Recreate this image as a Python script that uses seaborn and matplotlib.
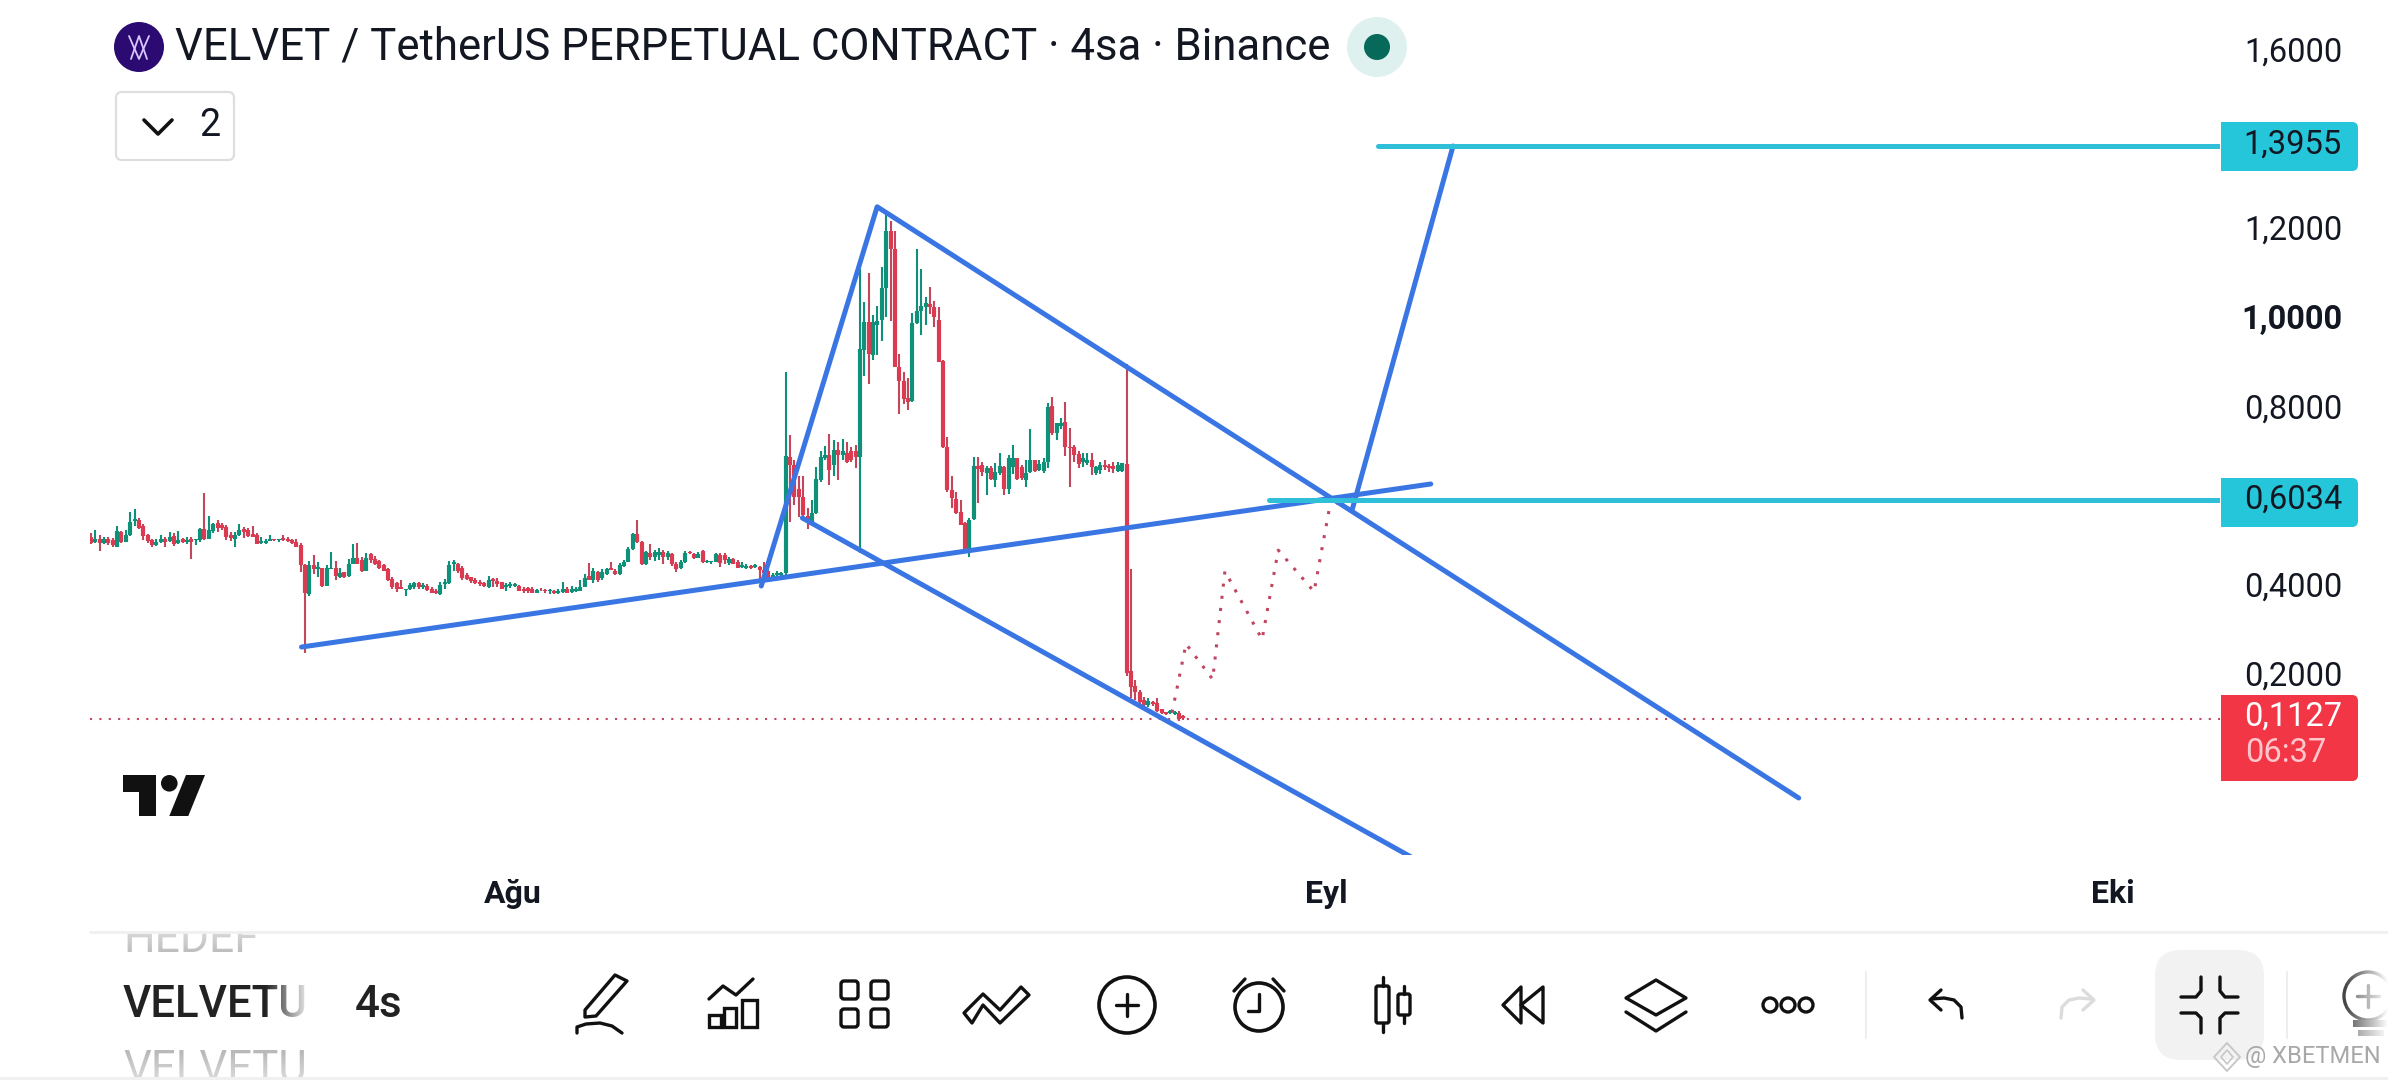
import numpy as np
import pandas as pd
import matplotlib.pyplot as plt
from matplotlib.patches import Circle, FancyBboxPatch, Polygon, Rectangle
from matplotlib.transforms import ScaledTranslation
import seaborn as sns

# candle data, 4h bars
opens = [.520,.508,.515,.507,.514,.513,.498,.531,.509,.524,
         .556,.557,.544,.524,.513,.501,.509,.515,.510,.522,
         .505,.514,.509,.514,.513,.513,.537,.516,.533,.550,
         .546,.541,.524,.516,.524,.537,.534,.526,.524,.505,
         .505,.511,.515,.512,.518,.516,.513,.509,.501,.457,
         .392,.457,.448,.449,.410,.447,.449,.429,.440,.431,
         .458,.472,.468,.444,.481,.469,.466,.457,.448,.425,
         .417,.407,.401,.402,.407,.416,.407,.410,.404,.399,
         .391,.414,.416,.459,.460,.451,.434,.429,.423,.418,
         .416,.407,.425,.421,.418,.408,.410,.410,.410,.404,
         .406,.403,.395,.404,.401,.398,.399,.395,.396,.404,
         .396,.399,.399,.408,.431,.423,.442,.427,.436,.451,
         .443,.436,.454,.464,.492,.526,.509,.460,.484,.474,
         .478,.485,.475,.481,.460,.449,.463,.485,.481,.473,
         .487,.464,.464,.464,.479,.479,.462,.470,.464,.453,
         .451,.454,.453,.453,.445,.443,.425,.434,.434,.438,
         .699,.681,.628,.610,.567,.554,.574,.647,.696,.703,
         .681,.714,.703,.707,.713,.713,.699,.939,1.002,.927,
         .994,1.006,1.077,1.205,1.164,.901,.870,.830,.824,.999,
         1.026,1.035,1.041,1.035,1.006,.914,.720,.625,.604,.576,
         .550,.487,.559,.678,.681,.662,.673,.647,.662,.677,
         .628,.677,.696,.677,.647,.664,.691,.670,.668,.688,
         .813,.753,.767,.778,.722,.722,.705,.688,.686,.693,
         .662,.670,.681,.679,.679,.668,.668,.684,.219,.185,
         .173,.154,.143,.149,.147,.133,.127,.126,.123,.126,
         .118]
highs = [.528,.535,.524,.520,.520,.518,.544,.533,.535,.575,
         .582,.561,.549,.526,.516,.514,.524,.519,.531,.528,
         .533,.518,.520,.520,.516,.540,.619,.566,.551,.558,
         .550,.546,.531,.531,.549,.541,.539,.544,.528,.520,
         .516,.524,.516,.516,.524,.519,.514,.514,.507,.459,
         .466,.478,.463,.451,.457,.485,.466,.449,.442,.469,
         .503,.507,.475,.484,.484,.477,.468,.460,.451,.430,
         .419,.423,.404,.417,.418,.418,.416,.414,.408,.402,
         .419,.425,.466,.468,.462,.454,.438,.430,.427,.423,
         .419,.432,.427,.427,.419,.416,.418,.417,.412,.408,
         .408,.407,.404,.406,.402,.402,.401,.402,.419,.407,
         .410,.407,.422,.436,.462,.449,.444,.447,.451,.464,
         .447,.462,.468,.496,.529,.557,.511,.489,.504,.490,
         .494,.490,.487,.483,.464,.468,.487,.489,.483,.485,
         .490,.468,.466,.484,.483,.484,.475,.473,.468,.464,
         .460,.457,.458,.455,.464,.445,.438,.443,.441,.888,
         .748,.693,.655,.655,.584,.602,.677,.713,.723,.750,
         .737,.733,.738,.733,.722,.726,1.121,1.047,1.110,1.017,
         1.036,1.125,1.241,1.228,1.206,.929,.888,.875,1.021,1.164,
         1.119,1.058,1.080,1.048,1.034,.916,.743,.657,.621,.602,
         .554,.561,.699,.699,.688,.679,.679,.686,.707,.679,
         .703,.726,.697,.681,.693,.761,.691,.691,.696,.819,
         .832,.774,.785,.823,.763,.726,.711,.707,.707,.708,
         .679,.688,.691,.683,.688,.688,.686,.908,.447,.199,
         .177,.160,.158,.153,.158,.135,.128,.132,.129,.130,
         .121]
lows = [.504,.507,.487,.503,.501,.498,.498,.505,.509,.522,
        .545,.537,.513,.507,.498,.500,.507,.496,.509,.500,
        .504,.507,.503,.470,.501,.509,.513,.515,.528,.531,
        .535,.513,.511,.496,.522,.518,.519,.519,.503,.504,
        .504,.511,.510,.509,.510,.509,.503,.496,.442,.260,
        .387,.436,.429,.408,.410,.447,.423,.427,.427,.429,
        .458,.459,.442,.444,.462,.457,.448,.444,.421,.404,
        .397,.402,.388,.401,.404,.404,.404,.398,.393,.391,
        .389,.402,.414,.444,.438,.423,.423,.417,.414,.410,
        .407,.406,.408,.407,.402,.398,.406,.407,.398,.395,
        .395,.393,.393,.398,.393,.392,.392,.392,.395,.393,
        .393,.397,.398,.408,.423,.416,.419,.423,.434,.445,
        .434,.434,.453,.463,.490,.507,.457,.457,.468,.466,
        .468,.459,.468,.454,.442,.447,.462,.481,.469,.472,
        .462,.462,.460,.463,.453,.459,.457,.459,.451,.449,
        .447,.447,.449,.425,.425,.423,.423,.427,.428,.434,
        .552,.591,.565,.556,.537,.544,.572,.643,.691,.636,
        .656,.646,.692,.686,.688,.673,.483,.881,.862,.915,
        .927,.959,1.013,1.004,.901,.795,.817,.803,.823,.997,
        .972,.994,1.019,.991,.911,.718,.621,.584,.572,.546,
        .484,.474,.558,.595,.655,.613,.647,.632,.658,.614,
        .616,.661,.647,.647,.631,.662,.666,.668,.662,.673,
        .748,.737,.761,.702,.631,.688,.673,.677,.681,.658,
        .658,.661,.670,.664,.662,.666,.666,.208,.158,.154,
        .143,.139,.139,.141,.128,.123,.121,.123,.121,.108,
        .110]
closes = [.507,.514,.507,.515,.505,.501,.533,.509,.524,.552,
          .560,.539,.522,.510,.501,.509,.516,.509,.520,.504,
          .513,.508,.513,.509,.515,.537,.516,.534,.548,.539,
          .539,.520,.518,.524,.535,.531,.522,.520,.504,.511,
          .511,.515,.512,.514,.512,.511,.505,.498,.457,.393,
          .457,.448,.453,.410,.449,.451,.432,.439,.429,.460,
          .472,.460,.443,.472,.468,.458,.451,.444,.423,.407,
          .404,.403,.403,.412,.416,.407,.412,.401,.395,.393,
          .412,.419,.457,.463,.444,.427,.425,.421,.416,.413,
          .410,.423,.421,.414,.403,.412,.413,.413,.399,.398,
          .398,.395,.401,.402,.398,.401,.395,.399,.404,.395,
          .404,.403,.407,.427,.424,.444,.422,.440,.447,.445,
          .436,.457,.464,.492,.526,.509,.460,.486,.474,.485,
          .486,.475,.483,.458,.447,.464,.483,.483,.473,.481,
          .463,.466,.466,.481,.462,.468,.470,.460,.451,.457,
          .455,.451,.457,.445,.438,.425,.434,.439,.439,.701,
          .681,.610,.610,.569,.550,.574,.649,.699,.703,.670,
          .714,.703,.713,.688,.691,.698,.940,1.002,.930,1.002,
          1.004,1.077,1.205,1.164,.901,.870,.828,.823,1.000,1.026,
          1.038,1.043,1.034,1.013,.912,.720,.625,.606,.574,.546,
          .487,.558,.678,.671,.666,.673,.649,.666,.679,.628,
          .696,.697,.649,.651,.662,.692,.668,.683,.688,.811,
          .753,.774,.774,.720,.718,.703,.684,.696,.693,.676,
          .676,.681,.676,.673,.671,.681,.685,.214,.184,.173,
          .150,.143,.153,.145,.130,.124,.123,.129,.128,.111,
          .113]

# projected path drawn as a dotted line (bar index, price)
path_bars = [247.4, 250.6, 256.7, 259.5, 268.0, 271.7, 279.9, 283.9, 286.6]
path_prices = [.126, .280, .2005, .443, .290, .490, .397, .610, .580]

# hand drawn trend lines (bar index, price)
trend_lines = {
    'support': ([48.2, 306.6], [.2729, .6382]),
    'impulse': ([153.4, 179.9], [.4096, 1.2588]),
    'upper': ([180.0, 390.8], [1.2588, -.0654]),
    'lower': ([162.8, 308.7], [.562, -.2335]),
    'target': ([288.6, 311.7], [.5799, 1.3955]),
}
level_lines = {'entry': ([269.5, 487.2], [.6034, .6034]),
               'goal': ([294.5, 487.2], [1.3955, 1.3955])}

last_price = .1127
price_ticks = [0, .2, .4, .6, .8, 1.0, 1.2, 1.6]
price_labels = ['0,0000', '0,2000', '0,4000', '', '0,8000', '1,0000', '1,2000', '1,6000']
month_ticks = [96.6, 282.6, 462.6]
month_labels = ['Ağu', 'Eyl', 'Eki']

GREEN = '#0f9079'
RED = '#dc3a50'
WICK_RED = '#c2465c'
BLUE = '#3a76e3'
CYAN = '#2fbfd8'
INK = '#131722'

sns.set_theme(style='white')
plt.rcParams['font.family'] = ['Roboto', 'DejaVu Sans']

df = pd.DataFrame({'open': opens, 'high': highs, 'low': lows, 'close': closes})
df['bar'] = df.index
df['dir'] = np.where(df['close'] >= df['open'], 'up', 'down')
wicks = df.melt(id_vars=['bar', 'dir'], value_vars=['low', 'high'], value_name='price')
bodies = df.melt(id_vars=['bar', 'dir'], value_vars=['open', 'close'], value_name='price')

W, H = 2388, 1080
fig = plt.figure(figsize=(W / 100, H / 100), dpi=100, facecolor='white')
ax = fig.add_axes([90 / W, (H - 855) / H, 2130 / W, 855 / H])

sns.lineplot(data=wicks, x='bar', y='price', units='bar', estimator=None, hue='dir',
             palette={'up': GREEN, 'down': WICK_RED}, linewidth=1.5, legend=False,
             solid_capstyle='butt', ax=ax)
sns.lineplot(data=bodies, x='bar', y='price', units='bar', estimator=None, hue='dir',
             palette={'up': GREEN, 'down': RED}, linewidth=3.0, legend=False,
             solid_capstyle='butt', ax=ax)

# last price line and projection
ax.axhline(last_price, color=WICK_RED, lw=1.5, ls=(0, (1, 3.5)), zorder=1)
path = pd.DataFrame({'bar': path_bars, 'price': path_prices})
sns.lineplot(data=path, x='bar', y='price', sort=False, estimator=None, color='#bf4560',
             linewidth=2.2, linestyle=(0, (1, 3.0)), ax=ax)

for name, (xs, ys) in trend_lines.items():
    sns.lineplot(x=xs, y=ys, estimator=None, color=BLUE, linewidth=3.6,
                 solid_capstyle='round', zorder=5, ax=ax)
for name, (xs, ys) in level_lines.items():
    sns.lineplot(x=xs, y=ys, estimator=None, color=CYAN, linewidth=3.6,
                 solid_capstyle='round', zorder=6, ax=ax)

ax.set_xlim(-0.2, 487.2)
ax.set_ylim(-.1931, 1.7226)
ax.set(xlabel='', ylabel='')
sns.despine(ax=ax, left=True, bottom=True, right=True, top=True)
ax.patch.set_alpha(0)

ax.yaxis.tick_right()
ax.set_yticks(price_ticks, price_labels)
ax.tick_params(axis='y', length=0, pad=88, labelsize=23.5, labelcolor=INK)
lift = ScaledTranslation(0, 6 / 100, fig.dpi_scale_trans)
for lab in ax.get_yticklabels():
    lab.set_ha('right')
    lab.set_transform(lab.get_transform() + lift)
    if lab.get_text() == '1,0000':
        lab.set_fontweight('bold')
ax.set_xticks(month_ticks, month_labels)
ax.tick_params(axis='x', length=0, pad=17, labelsize=23, labelcolor=INK)
for lab in ax.get_xticklabels():
    lab.set_fontweight('bold')

# everything around the chart is drawn in pixel coordinates
ui = fig.add_axes([0, 0, 1, 1], zorder=10)
ui.set_xlim(0, W)
ui.set_ylim(H, 0)
ui.axis('off')
ui.patch.set_alpha(0)


def stroke(xs, ys, color='#111111', lw=2.4, z=20):
    ui.plot(xs, ys, color=color, lw=lw, solid_capstyle='round', solid_joinstyle='round', zorder=z)


def outline(pts, color='#111111', lw=2.4, z=20):
    ui.add_patch(Polygon(pts, closed=True, fill=False, ec=color, lw=lw, joinstyle='round', zorder=z))


def rbox(x0, y0, x1, y1, r=4, fc='none', ec='none', lw=1.5, z=20):
    ui.add_patch(FancyBboxPatch((x0 + r, y0 + r), x1 - x0 - 2 * r, y1 - y0 - 2 * r,
                                boxstyle=f'round,pad={r}', fc=fc, ec=ec, lw=lw, zorder=z))


def fade(x0, x1, y0, y1, axis, z=30, strength=1.0):
    # white overlay going transparent, used on the ticker picker
    n = 64
    ramp = np.linspace(0, 1, n) * strength
    if axis == 'x':
        alpha = ramp[None, :]
    elif axis == 'up':
        alpha = ramp[::-1, None]
    else:
        alpha = ramp[:, None]
    rgba = np.ones(alpha.shape + (4,))
    rgba[..., 3] = alpha
    ui.imshow(rgba, extent=(x0, x1, y1, y0), aspect='auto', zorder=z, interpolation='bilinear')


# header
ui.add_patch(Circle((139, 47), 25, fc='#2b0b72', ec='none', zorder=20))
stroke([129, 139, 149], [36, 59, 36], color='#d9c8ff', lw=1.3, z=21)
stroke([131, 139, 147], [59, 36, 59], color='#d9c8ff', lw=1.3, z=21)
ui.text(175, 48, 'VELVET / TetherUS PERPETUAL CONTRACT · 4sa · Binance', fontsize=31.5,
        color=INK, va='center', ha='left', zorder=20)
ui.add_patch(Circle((1377, 47), 30, fc='#dff1ee', ec='none', zorder=20))
ui.add_patch(Circle((1377, 47), 13, fc='#06695a', ec='none', zorder=21))
rbox(116, 92, 234, 160, r=6, fc='white', ec='#dedede', lw=1.6)
stroke([144, 158, 172], [120, 134, 120], lw=2.6)
ui.text(210, 125, '2', fontsize=27, color=INK, va='center', ha='center', zorder=21)

# tradingview mark
ui.add_patch(Polygon([(122.7, 775), (156, 775), (156, 816), (139.3, 816), (139.3, 791.7), (122.7, 791.7)],
                     fc='#111111', ec='none', zorder=20))
ui.add_patch(Circle((169.3, 783.3), 8.3, fc='#111111', ec='none', zorder=20))
ui.add_patch(Polygon([(186, 775), (205, 775), (188.3, 816), (169.3, 816)], fc='#111111', ec='none', zorder=20))

# price boxes
for y0, y1, fc in [(122, 171, '#26c6da'), (478, 527, '#26c6da'), (695, 781, '#f23645')]:
    rbox(2221, y0, 2358, y1, r=6, fc=fc)
    ui.add_patch(Rectangle((2221, y0), 20, y1 - y0, fc=fc, ec='none', zorder=20))
ui.text(2342, 145, '1,3955', fontsize=23.5, color=INK, ha='right', va='center', zorder=22)
ui.text(2342, 500, '0,6034', fontsize=23.5, color=INK, ha='right', va='center', zorder=22)
ui.text(2342, 717, '0,1127', fontsize=23.5, color='white', ha='right', va='center', zorder=22)
ui.text(2245, 753, '06:37', fontsize=23.5, color='#ffc6cc', ha='left', va='center', zorder=22)

# toolbar
ui.text(123, 940, 'HEDEF', fontsize=32, color='#b9b9b9', va='center', zorder=21)
ui.add_patch(Rectangle((100, 900), 260, 32, fc='white', ec='none', zorder=25))
fade(100, 330, 932, 956, 'up', strength=.45)
ui.plot([90, W], [932, 932], color='#f0f0f0', lw=2, zorder=31)
ui.text(123, 1005, 'VELVETU', fontsize=31.5, color='#222222', va='center', fontweight='medium', zorder=21)
fade(265, 312, 980, 1030, 'x')
ui.text(355, 1005, '4s', fontsize=31.5, color='#222222', va='center', fontweight='medium', zorder=21)
ui.text(123, 1070, 'VELVETU', fontsize=31.5, color='#b9b9b9', va='center', zorder=21)
fade(100, 330, 1052, 1078, 'down', strength=.45)
ui.add_patch(Rectangle((0, 1077), W, 3, fc='#f0f0f0', ec='none', zorder=31))

# pen
outline([(615, 975), (627, 981), (596, 1016), (585, 1017), (585, 1010)])
stroke([577, 577, 586, 600, 612, 622], [1033, 1027, 1024, 1023, 1026, 1033])
# chart with bars
stroke([709, 723, 736, 753], [999, 986, 995, 979])
for x0, x1, y0 in [(709, 721, 1015), (724, 736, 1008), (742, 757, 1000)]:
    ui.add_patch(Rectangle((x0, y0), x1 - x0, 1027 - y0, fill=False, ec='#111111', lw=2.4, zorder=20))
# grid
for x0 in (841, 871):
    for y0 in (981, 1009):
        rbox(x0, y0, x0 + 17, y0 + 18, r=3, ec='#111111', lw=2.4)
# patterns
outline([(964, 1013), (983, 994), (1000, 1010), (1021, 987), (1029, 995), (1000, 1023), (983, 1005), (972, 1023)])
# add
ui.add_patch(Circle((1127, 1005), 28, fill=False, ec='#111111', lw=2.6, zorder=20))
stroke([1116, 1138], [1005, 1005])
stroke([1127, 1127], [994, 1016])
# alarm
ui.add_patch(Circle((1259, 1007), 24, fill=False, ec='#111111', lw=2.6, zorder=20))
stroke([1259, 1259, 1248], [994, 1011, 1011])
stroke([1234, 1245], [991, 979])
stroke([1284, 1273], [991, 979])
# candles
rbox(1376, 986, 1389, 1023, r=2, ec='#111111', lw=2.4)
stroke([1382.5, 1382.5], [977, 986])
stroke([1382.5, 1382.5], [1023, 1032])
rbox(1398, 994, 1410, 1015, r=2, ec='#111111', lw=2.4)
stroke([1404, 1404], [986, 994])
stroke([1404, 1404], [1015, 1023])
# replay
outline([(1503, 1005), (1521, 987), (1521, 1023)])
outline([(1521, 1005), (1543, 987), (1543, 1023)])
# layers
outline([(1656, 980), (1686, 998), (1656, 1015), (1626, 998)])
stroke([1626, 1656, 1686], [1012, 1031, 1012])
# more
for cx in (1770, 1788, 1806):
    ui.add_patch(Circle((cx, 1005), 7, fill=False, ec='#111111', lw=2.4, zorder=20))
ui.plot([1866, 1866], [972, 1038], color='#eeeeee', lw=1.5, zorder=20)
# undo, redo
stroke([1962, 1961, 1954, 1944, 1932], [1018, 1007, 1000, 998, 999])
stroke([1941, 1930, 1941], [990, 1000, 1010])
stroke([2061, 2062, 2069, 2079, 2091], [1018, 1007, 1000, 998, 999], color='#dcdcdc')
stroke([2083, 2094, 2083], [990, 1000, 1010], color='#dcdcdc')
# collapse button
rbox(2155, 950, 2264, 1060, r=26, fc='#f2f2f2', z=15)
stroke([2201, 2201, 2196, 2181], [977, 991, 997, 997])
stroke([2220, 2220, 2225, 2238], [977, 991, 997, 997])
stroke([2181, 2196, 2201, 2201], [1013, 1013, 1018, 1033])
stroke([2238, 2225, 2220, 2220], [1013, 1013, 1018, 1033])
ui.plot([2287, 2287], [972, 1038], color='#eeeeee', lw=1.5, zorder=20)
# bulb
ui.add_patch(Circle((2368, 996), 24, fill=False, ec='#444444', lw=2.4, zorder=20))
stroke([2357, 2379], [996, 996], color='#666666')
stroke([2368, 2368], [985, 1007], color='#666666')
ui.add_patch(Rectangle((2353, 1020), 34, 7, fc='#555555', ec='none', zorder=20))
ui.add_patch(Rectangle((2358, 1030), 26, 6, fc='#888888', ec='none', zorder=20))
fade(2345, 2388, 970, 1040, 'x', z=21)
# watermark
outline([(2227, 1043), (2240, 1057), (2227, 1071), (2214, 1057)], color='#c8c8c8', lw=1.4, z=35)
outline([(2227, 1050), (2233, 1057), (2227, 1064), (2221, 1057)], color='#c8c8c8', lw=1.2, z=35)
ui.text(2245, 1057, '@ XBETMEN', fontsize=17, color='#a8a8a8', va='center', zorder=35)

ui.set_xlim(0, W)
ui.set_ylim(H, 0)

fig.savefig('out.png', dpi=100)
